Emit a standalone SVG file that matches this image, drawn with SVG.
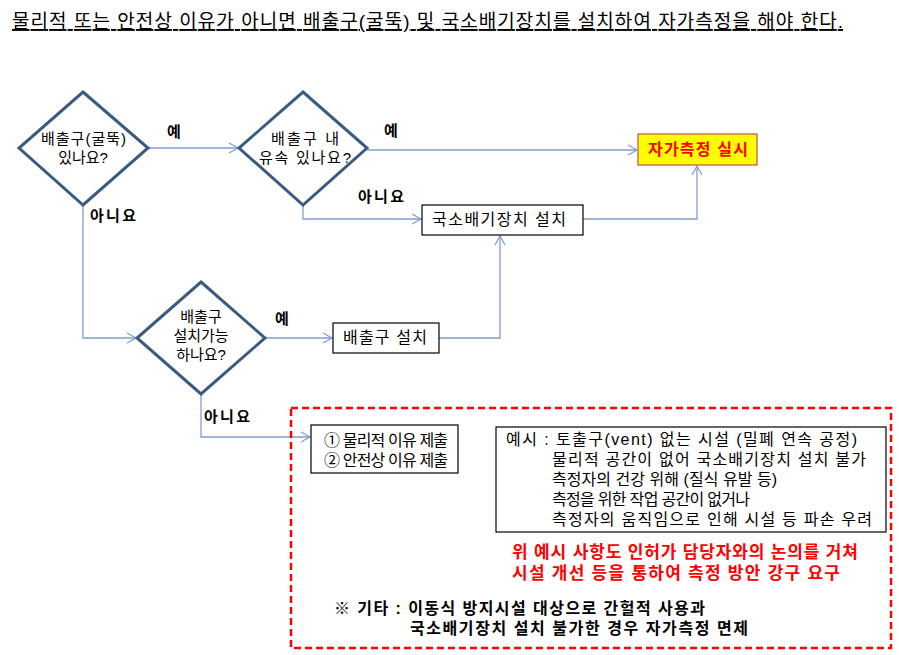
<svg xmlns="http://www.w3.org/2000/svg" width="899" height="655" viewBox="0 0 899 655">
<defs>
<style>
text{font-family:"Liberation Sans","Noto Sans CJK KR",sans-serif;font-size:15px;fill:#000}
.n{font-size:16px}
.b{font-weight:bold}
.r{fill:#ff0000;font-weight:bold;font-size:17px}
.d{fill:#fff;stroke:#3b5a80;stroke-width:3}
.box{fill:#fff;stroke:#000;stroke-width:1.2}
.c{fill:none;stroke:#7f9fcf;stroke-width:1.3}
</style>
<marker id="a" markerWidth="12" markerHeight="12" refX="10" refY="6" orient="auto" markerUnits="userSpaceOnUse"><path d="M1,1 L10,6 L1,11" fill="none" stroke="#7f9fcf" stroke-width="1.3"/></marker>
</defs>
<rect width="899" height="655" fill="#fff"/>
<text x="12" y="28" style="font-size:19px;text-decoration:underline" textLength="831" lengthAdjust="spacing">물리적 또는 안전상 이유가 아니면 배출구(굴뚝) 및 국소배기장치를 설치하여 자가측정을 해야 한다.</text>
<g id="connectors">
<path class="c" d="M148,148 H238" marker-end="url(#a)"/>
<path class="c" d="M367,150 H637" marker-end="url(#a)"/>
<path class="c" d="M303,205 V219 H421" marker-end="url(#a)"/>
<path class="c" d="M583,219 H697 V166" marker-end="url(#a)"/>
<path class="c" d="M439,338 H500 V236" marker-end="url(#a)"/>
<path class="c" d="M83,205 V338 H136" marker-end="url(#a)"/>
<path class="c" d="M265,338 H332" marker-end="url(#a)"/>
<path class="c" d="M201,394 V437 H310" marker-end="url(#a)"/>
<text class="b" x="167" y="137">예</text>
<text class="b" x="384" y="136">예</text>
<text class="b" x="358" y="202" textLength="46">아니요</text>
<text class="b" x="90" y="221" textLength="46">아니요</text>
<text class="b" x="275" y="324">예</text>
<text class="b" x="204" y="422" textLength="46">아니요</text>
</g>
<g id="d1"><polygon class="d" points="83,92 148,148 83,205 19,148"/><text x="41" y="144" textLength="85">배출구(굴뚝)</text><text x="83" y="163" text-anchor="middle">있나요?</text></g>
<g id="d2"><polygon class="d" points="303,92 367,148 303,205 239,148"/><text x="271" y="144" textLength="68">배출구 내</text><text x="259" y="163" textLength="92">유속 있나요?</text></g>
<g id="d3"><polygon class="d" points="201,282 265,338 201,394 137,338"/><text x="201" y="322" text-anchor="middle">배출구</text><text x="201" y="341" text-anchor="middle">설치가능</text><text x="201" y="360" text-anchor="middle">하나요?</text></g>
<g id="self"><rect x="638" y="134" width="119" height="31" fill="#ffff00" stroke="#c0504d" stroke-width="1.2"/><text x="648" y="155" textLength="100" class="b" style="fill:#ff0000;font-size:16px">자가측정 실시</text></g>
<g id="local"><rect class="box" x="422" y="205" width="161" height="30"/><text class="n" x="432" y="225" textLength="134">국소배기장치 설치</text></g>
<g id="outlet"><rect class="box" x="333" y="323" width="106" height="30"/><text class="n" x="343" y="343" textLength="84">배출구 설치</text></g>
<g id="note">
<rect x="291" y="408" width="600" height="240" fill="none" stroke="#ff0000" stroke-width="2.5" stroke-dasharray="7,4"/>
<rect class="box" x="311" y="425" width="147" height="48"/>
<text class="n" x="324" y="446" textLength="124">① 물리적 이유 제출</text>
<text class="n" x="324" y="466" textLength="124">② 안전상 이유 제출</text>
<rect class="box" x="496" y="427" width="390" height="105"/>
<text class="n" x="506" y="445" textLength="351">예시 : 토출구(vent) 없는 시설 (밀폐 연속 공정)</text>
<text class="n" x="552" y="465" textLength="314">물리적 공간이 없어 국소배기장치 설치 불가</text>
<text class="n" x="552" y="485" textLength="225">측정자의 건강 위해 (질식 유발 등)</text>
<text class="n" x="552" y="505" textLength="198">측정을 위한 작업 공간이 없거나</text>
<text class="n" x="552" y="525" textLength="320">측정자의 움직임으로 인해 시설 등 파손 우려</text>
<text class="r" x="512" y="558" textLength="346">위 예시 사항도  인허가 담당자와의 논의를 거쳐</text>
<text class="r" x="512" y="579" textLength="328">시설 개선 등을 통하여 측정 방안 강구 요구</text>
<text class="b n" x="334" y="614" textLength="371">※ 기타  : 이동식 방지시설 대상으로 간헐적 사용과</text>
<text class="b n" x="410" y="634" textLength="338">국소배기장치 설치 불가한 경우 자가측정 면제</text>
</g>
</svg>
